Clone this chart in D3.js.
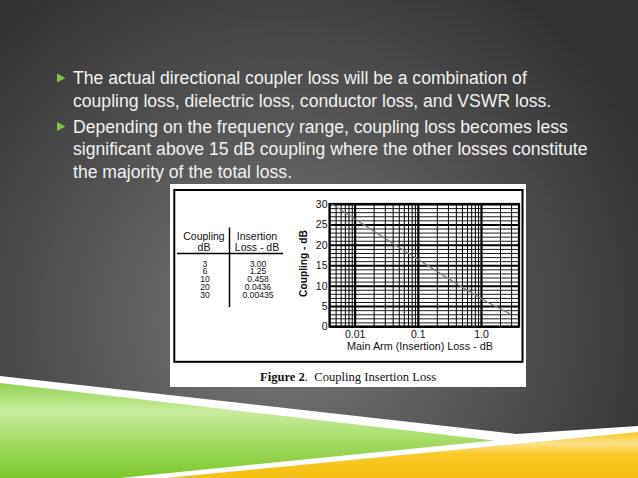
<!DOCTYPE html>
<html>
<head>
<meta charset="utf-8">
<script src="https://cdn.jsdelivr.net/npm/d3@7"></script>
<style>
  html, body { margin: 0; padding: 0; background: #444; overflow: hidden; }
  svg { display: block; }
</style>
</head>
<body>
<svg id="slide" width="638" height="478"></svg>
<script>
//slide bullet text, one array per bullet
var bullets = [
    ["The actual directional coupler loss will be a combination of",
     "coupling loss, dielectric loss, conductor loss, and VSWR loss."],
    ["Depending on the frequency range, coupling loss becomes less",
     "significant above 15 dB coupling where the other losses constitute",
     "the majority of the total loss."]
];

//coupling vs main arm insertion loss (table + curve)
var couplingDb = [3, 6, 10, 20, 30];
var insertionLossDb = [3.00, 1.25, 0.458, 0.0436, 0.00435];
var insertionLossText = ["3.00", "1.25", "0.458", "0.0436", "0.00435"];

//axis ticks
var xTickValues = [0.01, 0.1, 1.0];
var xTickLabels = ["0.01", "0.1", "1.0"];
var yTickValues = [0, 5, 10, 15, 20, 25, 30];

var svg = d3.select("#slide");
var sans = "'Liberation Sans', Arial, sans-serif";
var serif = "'Liberation Serif', 'Times New Roman', serif";

var defs = svg.append("defs");

//background gradient
var bg = defs.append("radialGradient")
    .attr("id", "bg")
    .attr("gradientUnits", "userSpaceOnUse")
    .attr("cx", 280).attr("cy", 320).attr("r", 400);
bg.append("stop").attr("offset", 0).attr("stop-color", "#7a7a7a");
bg.append("stop").attr("offset", 1).attr("stop-color", "#333333");

//dotted texture
var dots = defs.append("pattern")
    .attr("id", "dots")
    .attr("width", 4).attr("height", 4)
    .attr("patternUnits", "userSpaceOnUse");
dots.append("rect").attr("width", 1).attr("height", 1).attr("fill", "#000").attr("opacity", 0.1);

var green = defs.append("linearGradient")
    .attr("id", "green")
    .attr("x1", 0).attr("y1", 0).attr("x2", 0).attr("y2", 1);
green.append("stop").attr("offset", 0).attr("stop-color", "#92d452");
green.append("stop").attr("offset", 0.3).attr("stop-color", "#c9ed9e");
green.append("stop").attr("offset", 0.6).attr("stop-color", "#a5dc66");
green.append("stop").attr("offset", 1).attr("stop-color", "#7cc72e");

var yellow = defs.append("linearGradient")
    .attr("id", "yellow")
    .attr("x1", 0).attr("y1", 0).attr("x2", 0).attr("y2", 1);
yellow.append("stop").attr("offset", 0).attr("stop-color", "#f9c620");
yellow.append("stop").attr("offset", 0.25).attr("stop-color", "#fde28a");
yellow.append("stop").attr("offset", 0.5).attr("stop-color", "#f9c825");
yellow.append("stop").attr("offset", 1).attr("stop-color", "#f6c012");

svg.append("rect").attr("width", 638).attr("height", 478).attr("fill", "url(#bg)");
svg.append("rect").attr("width", 638).attr("height", 478).attr("fill", "url(#dots)");

//bottom swoosh: white stripe, green wedge, yellow band
svg.append("polygon")
    .attr("fill", "#ffffff")
    .attr("points", "0,376 516,434 638,426 638,478 0,478");
svg.append("polygon")
    .attr("fill", "url(#green)")
    .attr("points", "0,383 494,440.5 120,478 0,478");
svg.append("polygon")
    .attr("fill", "url(#yellow)")
    .attr("points", "166,478 638,432 638,478");

//bullets
var lineY = [[84, 106.5], [132.5, 155, 177.5]];
bullets.forEach(function(lines, i) {
    var top = lineY[i][0];
    svg.append("path")
        .attr("d", "M57," + (top - 10.5) + "L65.5," + (top - 6) + "L57," + (top - 1.5) + "Z")
        .attr("fill", "#86c440");
    svg.selectAll(null)
        .data(lines)
        .enter().append("text")
        .attr("x", 73)
        .attr("y", function(d, j) { return lineY[i][j]; })
        .attr("fill", "#f2f2f2")
        .style("font-family", sans)
        .style("font-size", "17.6px")
        .text(function(d) { return d; });
});

//figure card
svg.append("rect")
    .attr("x", 170).attr("y", 184)
    .attr("width", 356).attr("height", 203)
    .attr("fill", "#fff");
svg.append("rect")
    .attr("x", 174.3).attr("y", 190)
    .attr("width", 348.2).attr("height", 171.8)
    .attr("fill", "none")
    .attr("stroke", "#000")
    .attr("stroke-width", 2);

var caption = svg.append("text")
    .attr("x", 348).attr("y", 380.5)
    .attr("text-anchor", "middle")
    .attr("fill", "#111")
    .style("font-family", serif)
    .style("font-size", "12.6px");
caption.append("tspan").style("font-weight", "bold").text("Figure 2");
caption.append("tspan").text(".\u00a0 Coupling Insertion Loss");

//table
var tbl = svg.append("g").style("font-family", sans).attr("fill", "#111");
tbl.append("text").attr("x", 204).attr("y", 239.5).attr("text-anchor", "middle")
    .style("font-size", "10.5px").text("Coupling");
tbl.append("text").attr("x", 204).attr("y", 250.5).attr("text-anchor", "middle")
    .style("font-size", "10.5px").text("dB");
tbl.append("text").attr("x", 257).attr("y", 239.5).attr("text-anchor", "middle")
    .style("font-size", "10.5px").text("Insertion");
tbl.append("text").attr("x", 257).attr("y", 250.5).attr("text-anchor", "middle")
    .style("font-size", "10.5px").text("Loss - dB");
tbl.append("line").attr("x1", 177).attr("x2", 283).attr("y1", 253.5).attr("y2", 253.5)
    .attr("stroke", "#000").attr("stroke-width", 1.5);
tbl.append("line").attr("x1", 229.5).attr("x2", 229.5).attr("y1", 227.5).attr("y2", 307)
    .attr("stroke", "#000").attr("stroke-width", 1.5);

var row = d3.scalePoint()
    .domain(d3.range(couplingDb.length))
    .range([266.5, 297.5]);
tbl.selectAll(".cpl")
    .data(couplingDb)
    .enter().append("text")
    .attr("class", "cpl")
    .attr("x", 205)
    .attr("y", function(d, i) { return row(i); })
    .attr("text-anchor", "middle")
    .style("font-size", "8.6px")
    .text(function(d) { return d; });
tbl.selectAll(".ins")
    .data(insertionLossText)
    .enter().append("text")
    .attr("class", "ins")
    .attr("x", 258)
    .attr("y", function(d, i) { return row(i); })
    .attr("text-anchor", "middle")
    .style("font-size", "8.6px")
    .text(function(d) { return d; });

//chart scales
var x = d3.scaleLog().domain([0.004, 4]).range([329.5, 519]);
var y = d3.scaleLinear().domain([0, 30]).range([326.5, 204]);

var plot = svg.append("g");

//vertical grid (log minor + decade lines)
plot.append("g")
    .attr("transform", "translate(0," + y(0) + ")")
    .call(d3.axisBottom(x).tickValues(x.ticks()).tickSize(-(y(0) - y(30))).tickFormat(""))
    .call(function(g) {
        g.select(".domain").remove();
        g.selectAll(".tick line")
            .attr("stroke", "#000")
            .attr("stroke-width", function(d) { return xTickValues.indexOf(d) >= 0 ? 2.2 : 1; });
    });

//horizontal grid, 1 dB steps, heavier every 5 dB
plot.append("g")
    .attr("transform", "translate(" + x(0.004) + ",0)")
    .call(d3.axisLeft(y).tickValues(y.ticks(30)).tickSize(-(x(4) - x(0.004))).tickFormat(""))
    .call(function(g) {
        g.select(".domain").remove();
        g.selectAll(".tick line")
            .attr("stroke", "#000")
            .attr("stroke-width", function(d) { return d % 5 === 0 ? 2 : 0.9; });
    });

//plot border
plot.append("rect")
    .attr("x", x(0.004)).attr("y", y(30))
    .attr("width", x(4) - x(0.004))
    .attr("height", y(0) - y(30))
    .attr("fill", "none")
    .attr("stroke", "#000")
    .attr("stroke-width", 2.2);

//coupling curve
var pts = couplingDb.map(function(c, i) { return { c: c, loss: insertionLossDb[i] }; });
plot.append("path")
    .datum(pts)
    .attr("fill", "none")
    .attr("stroke", "#7e7e7e")
    .attr("stroke-width", 1.3)
    .attr("d", d3.line()
        .x(function(d) { return x(d.loss); })
        .y(function(d) { return y(d.c); }));

//tick labels
plot.append("g")
    .attr("transform", "translate(" + (x(0.004) - 2) + ",0)")
    .call(d3.axisLeft(y).tickValues(yTickValues).tickSize(0).tickPadding(0))
    .call(function(g) {
        g.select(".domain").remove();
        g.selectAll("text").attr("fill", "#111").style("font-family", sans).style("font-size", "10.5px");
    });
plot.append("g")
    .attr("transform", "translate(0," + (y(0) + 2.5) + ")")
    .call(d3.axisBottom(x).tickValues(xTickValues).tickSize(0).tickPadding(1.5)
        .tickFormat(function(d, i) { return xTickLabels[i]; }))
    .call(function(g) {
        g.select(".domain").remove();
        g.selectAll("text").attr("fill", "#111").style("font-family", sans).style("font-size", "10.5px");
    });

//axis titles
plot.append("text")
    .attr("x", 420).attr("y", 349.5)
    .attr("text-anchor", "middle")
    .attr("fill", "#111")
    .style("font-family", sans)
    .style("font-size", "10.8px")
    .text("Main Arm (Insertion) Loss - dB");
plot.append("text")
    .attr("transform", "translate(307,263.5) rotate(-90)")
    .attr("text-anchor", "middle")
    .attr("fill", "#111")
    .style("font-family", sans)
    .style("font-size", "10.2px")
    .style("font-weight", "bold")
    .text("Coupling - dB");
</script>
</body>
</html>
